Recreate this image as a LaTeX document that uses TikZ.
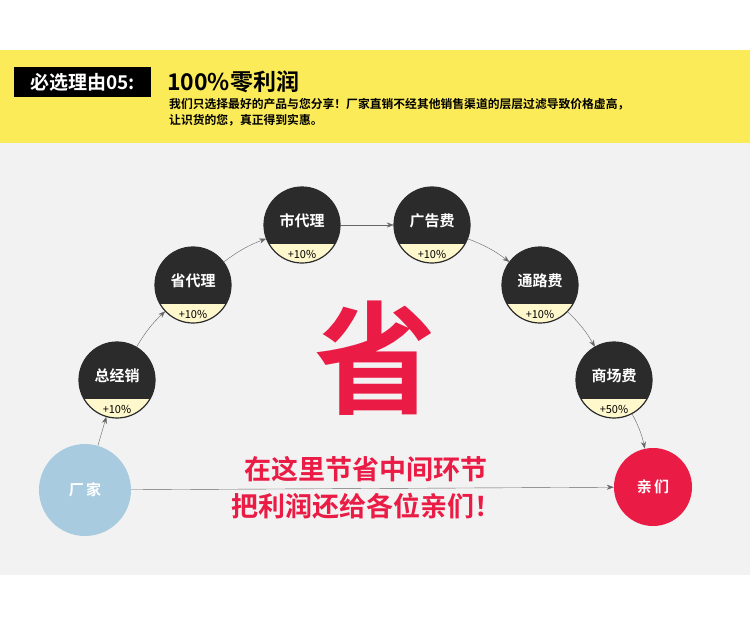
\documentclass[tikz,border=0pt]{standalone}
\usepackage{fontspec}
\setmainfont{Noto Sans CJK SC}
\newfontfamily\cjkbold{Noto Sans CJK SC Bold}
\usetikzlibrary{arrows.meta}
\definecolor{headyellow}{HTML}{FCEB58}
\definecolor{bggray}{HTML}{F2F2F2}
\definecolor{stepdark}{HTML}{2B2B2B}
\definecolor{capcream}{HTML}{FFF8CC}
\definecolor{factoryblue}{HTML}{A9CBE0}
\definecolor{kinred}{HTML}{EA1B45}

\begin{document}
\begin{tikzpicture}[x=1pt,y=-1pt,
    stage/.style={circle,minimum size=76pt,inner sep=0pt,text=white,font=\cjkbold\fontsize{15}{15}\selectfont},
    flow/.style={draw=gray!80!black,thin,-{Stealth[length=7pt,width=5pt]}},
    slogan/.style={text=kinred,font=\cjkbold\fontsize{27}{27}\selectfont}
]
\useasboundingbox (0,0) rectangle (750,635);
\fill[white] (0,0) rectangle (750,635);
\fill[headyellow] (0,50) rectangle (750,143);
\fill[bggray] (0,143) rectangle (750,575);

% header
\node[fill=black,text=white,font=\cjkbold\fontsize{19}{19}\selectfont,inner sep=2pt,minimum height=30pt,minimum width=137pt,anchor=west] (tag) at (14,82) {必选理由05:};
\node[anchor=west,font=\cjkbold\fontsize{23}{23}\selectfont,inner sep=0pt] (title) at (167,82) {100\%零利润};
\node[anchor=north west,align=left,font=\cjkbold\fontsize{11.8}{16}\selectfont,inner sep=0pt] (intro) at (169,98)
  {我们只选择最好的产品与您分享！厂家直销不经其他销售渠道的层层过滤导致价格虚高，\\让识货的您，真正得到实惠。};

% stages
\foreach \name/\lbl/\pct/\x/\y in {s1/总经销/+10\%/117/380, s2/省代理/+10\%/193/285,
    s3/市代理/+10\%/302/225, s4/广告费/+10\%/432/225, s5/通路费/+10\%/540/285, s6/商场费/+50\%/614/380}{
  \fill[stepdark] (\x,\y) circle (38);
  \begin{scope}
    \clip (\x,\y) circle (38);
    \fill[capcream] (\x-40,\y+19) rectangle (\x+40,\y+40);
  \end{scope}
  \draw[stepdark,line width=1.2pt] (\x,\y) circle (38);
  \node[stage] (\name) at (\x,\y) {};
  \node[text=white,font=\cjkbold\fontsize{15}{15}\selectfont] at (\x,\y-4) {\lbl};
  \node[font=\fontsize{11}{11}\selectfont] at (\x,\y+29) {\pct};
}

\node[circle,fill=factoryblue,minimum size=92pt,text=white,font=\cjkbold\fontsize{15}{15}\selectfont] (factory) at (85,490) {厂\,家};
\node[circle,fill=kinred,minimum size=78pt,text=white,font=\cjkbold\fontsize{15}{15}\selectfont] (kin) at (653,487) {亲\,们};

\draw[flow] (factory) -- (s1);
\draw[flow] (s1) to[bend left=8] (s2);
\draw[flow] (s2) to[bend left=8] (s3);
\draw[flow] (s3) -- (s4);
\draw[flow] (s4) to[bend left=8] (s5);
\draw[flow] (s5) to[bend left=8] (s6);
\draw[flow] (s6) to[bend left=8] (kin);
\draw[flow] (factory) -- (kin);

% centre
\node[text=kinred,font=\cjkbold\fontsize{122}{122}\selectfont] (save) at (375,358) {省};
\node[slogan] (line1) at (366,469) {在这里节省中间环节};
\node[slogan] (line2) at (366,506) {把利润还给各位亲们！};
\end{tikzpicture}
\end{document}
